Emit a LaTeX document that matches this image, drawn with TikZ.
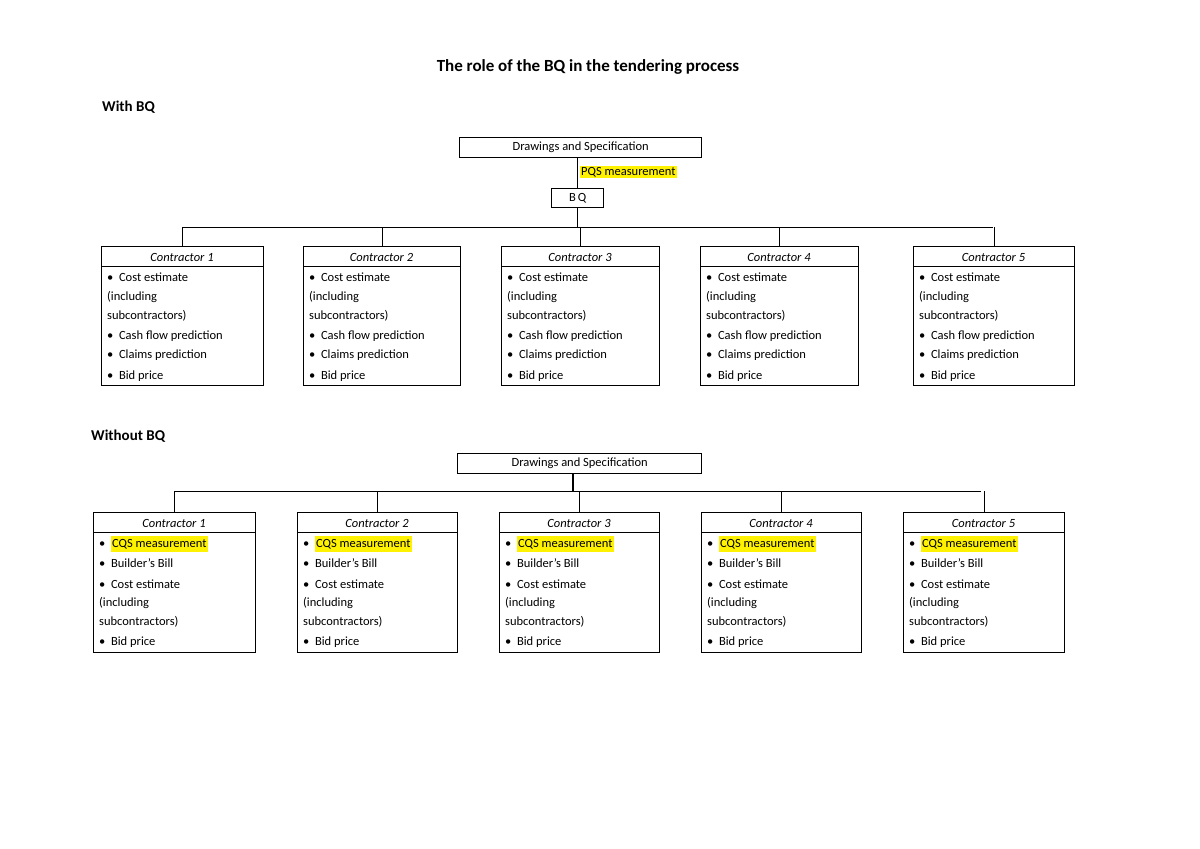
\documentclass[tikz,border=0pt]{standalone}
\usepackage{fontspec}
\setmainfont{Carlito}
\begin{document}
\begin{tikzpicture}[x=1pt,y=-1pt,
  box/.style={draw,line width=1.3pt,anchor=north west,inner sep=0pt},
  txt/.style={anchor=west,inner sep=0pt,font=\fontsize{12.5}{14}\selectfont},
  hd/.style={inner sep=0pt,font=\fontsize{12.5}{14}\selectfont\itshape},
  hl/.style={fill=yellow,inner sep=1pt},
  ln/.style={line width=0.8pt}]
\useasboundingbox (0,0) rectangle (1200,849);
\node[font=\fontsize{17}{20}\selectfont\bfseries] (title) at (588,67) {The role of the BQ in the tendering process};
\node[anchor=west,inner sep=0pt,font=\fontsize{15}{18}\selectfont\bfseries] (with) at (102,107) {With BQ};
\node[anchor=west,inner sep=0pt,font=\fontsize{15}{18}\selectfont\bfseries] (without) at (91,436) {Without BQ};
% top
\node[box,minimum width=242pt,minimum height=20pt] (ds1) at (459,137) {};
\node[hd,font=\fontsize{12.5}{14}\selectfont] (ds1t) at (ds1.center) {Drawings and Specification};
\node[box,minimum width=52pt,minimum height=19pt] (bq) at (551,188) {};
\node[txt,font=\fontsize{12.5}{14}\selectfont\bfseries] (bqt) at (bq.center) {};
\node[inner sep=0pt,font=\fontsize{12.5}{14}\selectfont] at (bq.center) {B\,Q};
\node[txt,hl] (pqs) at (580,172) {PQS measurement};
\draw[ln] (ds1.south -| bq.north) -- (bq.north);
\coordinate (h1l) at (182,227);
\coordinate (h1r) at (993,227);
\draw[ln] (h1l) -- (h1r);
\draw[ln] (bq.south) -- (bq.south |- h1l);
\foreach \i/\xa/\xb in {1/101/263,2/303/460,3/501/659,4/700/858,5/913/1074}{
  \pgfmathsetmacro\w{\xb-\xa}
  \node[box,minimum width=\w pt,minimum height=139pt] (a\i) at (\xa,246) {};
  \draw[line width=1pt] (\xa,266) -- (\xb,266);
  \node[hd] (ah\i) at ({(\xa+\xb)/2},257) {Contractor \i};
  \draw[ln] (a\i.north) -- (a\i.north |- h1l);
  \node[txt] (a\i l1) at (\xa+6,277) {\textbullet\ \ Cost estimate};
  \node[txt] (a\i l2) at (\xa+6,297) {(including};
  \node[txt] (a\i l3) at (\xa+6,316) {subcontractors)};
  \node[txt] (a\i l4) at (\xa+6,336) {\textbullet\ \ Cash flow prediction};
  \node[txt] (a\i l5) at (\xa+6,355) {\textbullet\ \ Claims prediction};
  \node[txt] (a\i l6) at (\xa+6,376) {\textbullet\ \ Bid price};
}
% bottom
\node[box,minimum width=244pt,minimum height=20pt] (ds2) at (457,453) {};
\node[inner sep=0pt,font=\fontsize{12.5}{14}\selectfont] (ds2t) at (ds2.center) {Drawings and Specification};
\coordinate (h2l) at (174,491);
\coordinate (h2r) at (981,491);
\draw[ln] (h2l) -- (h2r);
\draw[line width=1.3pt] (573,473) -- (573,491);
\foreach \i/\xa/\xb in {1/93/255,2/297/457,3/499/659,4/701/861,5/903/1064}{
  \pgfmathsetmacro\w{\xb-\xa}
  \node[box,minimum width=\w pt,minimum height=140pt] (b\i) at (\xa,512) {};
  \draw[line width=1pt] (\xa,532) -- (\xb,532);
  \node[hd] (bh\i) at ({(\xa+\xb)/2},523) {Contractor \i};
  \draw[ln] (b\i.north) -- (b\i.north |- h2l);
  \node[txt] (b\i l1) at (\xa+6,544) {\textbullet\ \ \colorbox{yellow}{\hspace*{-2pt}CQS measurement\hspace*{-2pt}}};
  \node[txt] (b\i l2) at (\xa+6,563) {\textbullet\ \ Builder’s Bill};
  \node[txt] (b\i l3) at (\xa+6,584) {\textbullet\ \ Cost estimate};
  \node[txt] (b\i l4) at (\xa+6,603) {(including};
  \node[txt] (b\i l5) at (\xa+6,622) {subcontractors)};
  \node[txt] (b\i l6) at (\xa+6,642) {\textbullet\ \ Bid price};
}
\end{tikzpicture}
\end{document}
